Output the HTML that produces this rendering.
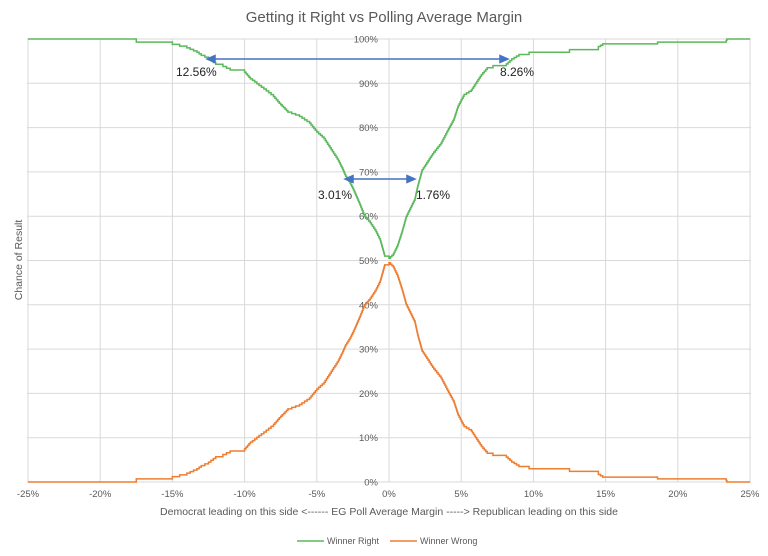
<!DOCTYPE html>
<html><head><meta charset="utf-8"><style>
body{margin:0;background:#fff;}
svg text{font-family:"Liberation Sans",sans-serif;}
</style></head><body>
<svg width="768" height="551" viewBox="0 0 768 551" xmlns="http://www.w3.org/2000/svg">
<rect width="768" height="551" fill="#fff"/>
<text x="384" y="22" font-size="15" fill="#595959" text-anchor="middle">Getting it Right vs Polling Average Margin</text>
<g id="grid" stroke="#d9d9d9" stroke-width="1"></g>
<g id="labels" font-size="9.5" fill="#595959"></g>
<polyline id="right" fill="none" stroke="#5cb85c" stroke-width="1.5"/>
<polyline id="wrong" fill="none" stroke="#ed7d31" stroke-width="1.5"/>
<g stroke="#4472c4" stroke-width="1.5" fill="#4472c4">
<line x1="212" y1="59" x2="503" y2="59"/>
<polygon points="207,59 215,55.5 215,62.5"/><polygon points="508,59 500,55.5 500,62.5"/>
<line x1="350" y1="179" x2="410" y2="179"/>
<polygon points="345,179 353,175.5 353,182.5"/><polygon points="415,179 407,175.5 407,182.5"/>
</g>
<g font-size="12" fill="#222">
<text x="176" y="76">12.56%</text>
<text x="500" y="76">8.26%</text>
<text x="318" y="199">3.01%</text>
<text x="416" y="199">1.76%</text>
</g>
<text x="389" y="515" font-size="10.5" fill="#595959" text-anchor="middle">Democrat leading on this side &lt;------ EG Poll Average Margin -----&gt; Republican leading on this side</text>
<text transform="translate(22,260) rotate(-90)" font-size="10.5" fill="#595959" text-anchor="middle">Chance of Result</text>
<g font-size="9" fill="#595959">
<line x1="297" y1="541" x2="324" y2="541" stroke="#5cb85c" stroke-width="1.5"/>
<text x="327" y="544">Winner Right</text>
<line x1="390" y1="541" x2="417" y2="541" stroke="#ed7d31" stroke-width="1.5"/>
<text x="420" y="544">Winner Wrong</text>
</g>
<script>
const X=v=>389+v*14.44, Y=v=>482-v*4.43;
let g=document.getElementById('grid'),l=document.getElementById('labels'),ns='http://www.w3.org/2000/svg';
for(let i=-25;i<=25;i+=5){let e=document.createElementNS(ns,'line');e.setAttribute('x1',X(i));e.setAttribute('x2',X(i));e.setAttribute('y1',39);e.setAttribute('y2',482);g.appendChild(e);
let t=document.createElementNS(ns,'text');t.setAttribute('x',X(i));t.setAttribute('y',497);t.setAttribute('text-anchor','middle');t.textContent=i+'%';l.appendChild(t);}
for(let i=0;i<=100;i+=10){let e=document.createElementNS(ns,'line');e.setAttribute('x1',27);e.setAttribute('x2',751);e.setAttribute('y1',Y(i));e.setAttribute('y2',Y(i));g.appendChild(e);
let t=document.createElementNS(ns,'text');t.setAttribute('x',378);t.setAttribute('y',Y(i)+3.5);t.setAttribute('text-anchor','end');t.textContent=i+'%';l.appendChild(t);}
const d=[[-25,100],[-17.5,99.3],[-15,98.8],[-14,98],[-13.3,97],[-13,96.3],[-12.5,95.5],[-12,94.3],[-11.5,93.8],[-11,93],[-10,92.5],[-9.6,91],[-9.3,90.3],[-9,89.5],[-8.5,88.3],[-8,87],[-7.6,85.5],[-7.3,84.5],[-7,83.5],[-6.2,82.5],[-5.5,81],[-5,79],[-4.5,77.5],[-4,75],[-3.5,72.5],[-3.2,70.5],[-3,69],[-2.7,67.5],[-2.4,65.5],[-2,62.5],[-1.7,60],[-1.3,58.5],[-0.9,56.5],[-0.6,54.5],[-0.3,51],[0,50.5],[0.3,51.5],[0.6,53.5],[0.9,56.5],[1.2,60],[1.5,62],[1.8,64],[2,67],[2.3,70.5],[2.7,72.5],[3.1,74.5],[3.6,76.5],[4,79],[4.5,82],[4.8,85],[5.2,87.5],[5.7,88.5],[6,90],[6.4,92],[6.8,93.5],[7.2,94],[8,94],[8.5,95.5],[9,96.5],[9.7,97],[12.3,97],[12.5,97.6],[14.5,98.3],[14.8,98.9],[18.5,98.9],[18.6,99.3],[23.3,99.3],[23.4,100],[25,100]];
let pts=[],prev=null;
d.forEach(p=>{
 if(prev){
  let dx=p[0]-prev[0],dy=p[1]-prev[1];
  let n=(Math.abs(dy)<1.2&&dx>1)||Math.abs(dy)<0.01?1:Math.max(1,Math.round(Math.abs(dy)/0.4));
  let cy=prev[1];
  for(let k=1;k<=n;k++){let x=prev[0]+dx*k/n,y=prev[1]+dy*k/n;pts.push([x,cy]);pts.push([x,y]);cy=y;}
 } else pts.push(p);
 prev=p;});
document.getElementById('right').setAttribute('points',pts.map(p=>X(p[0])+','+Y(p[1])).join(' '));
document.getElementById('wrong').setAttribute('points',pts.map(p=>X(p[0])+','+Y(100-p[1])).join(' '));
</script>
</svg>
</body></html>
